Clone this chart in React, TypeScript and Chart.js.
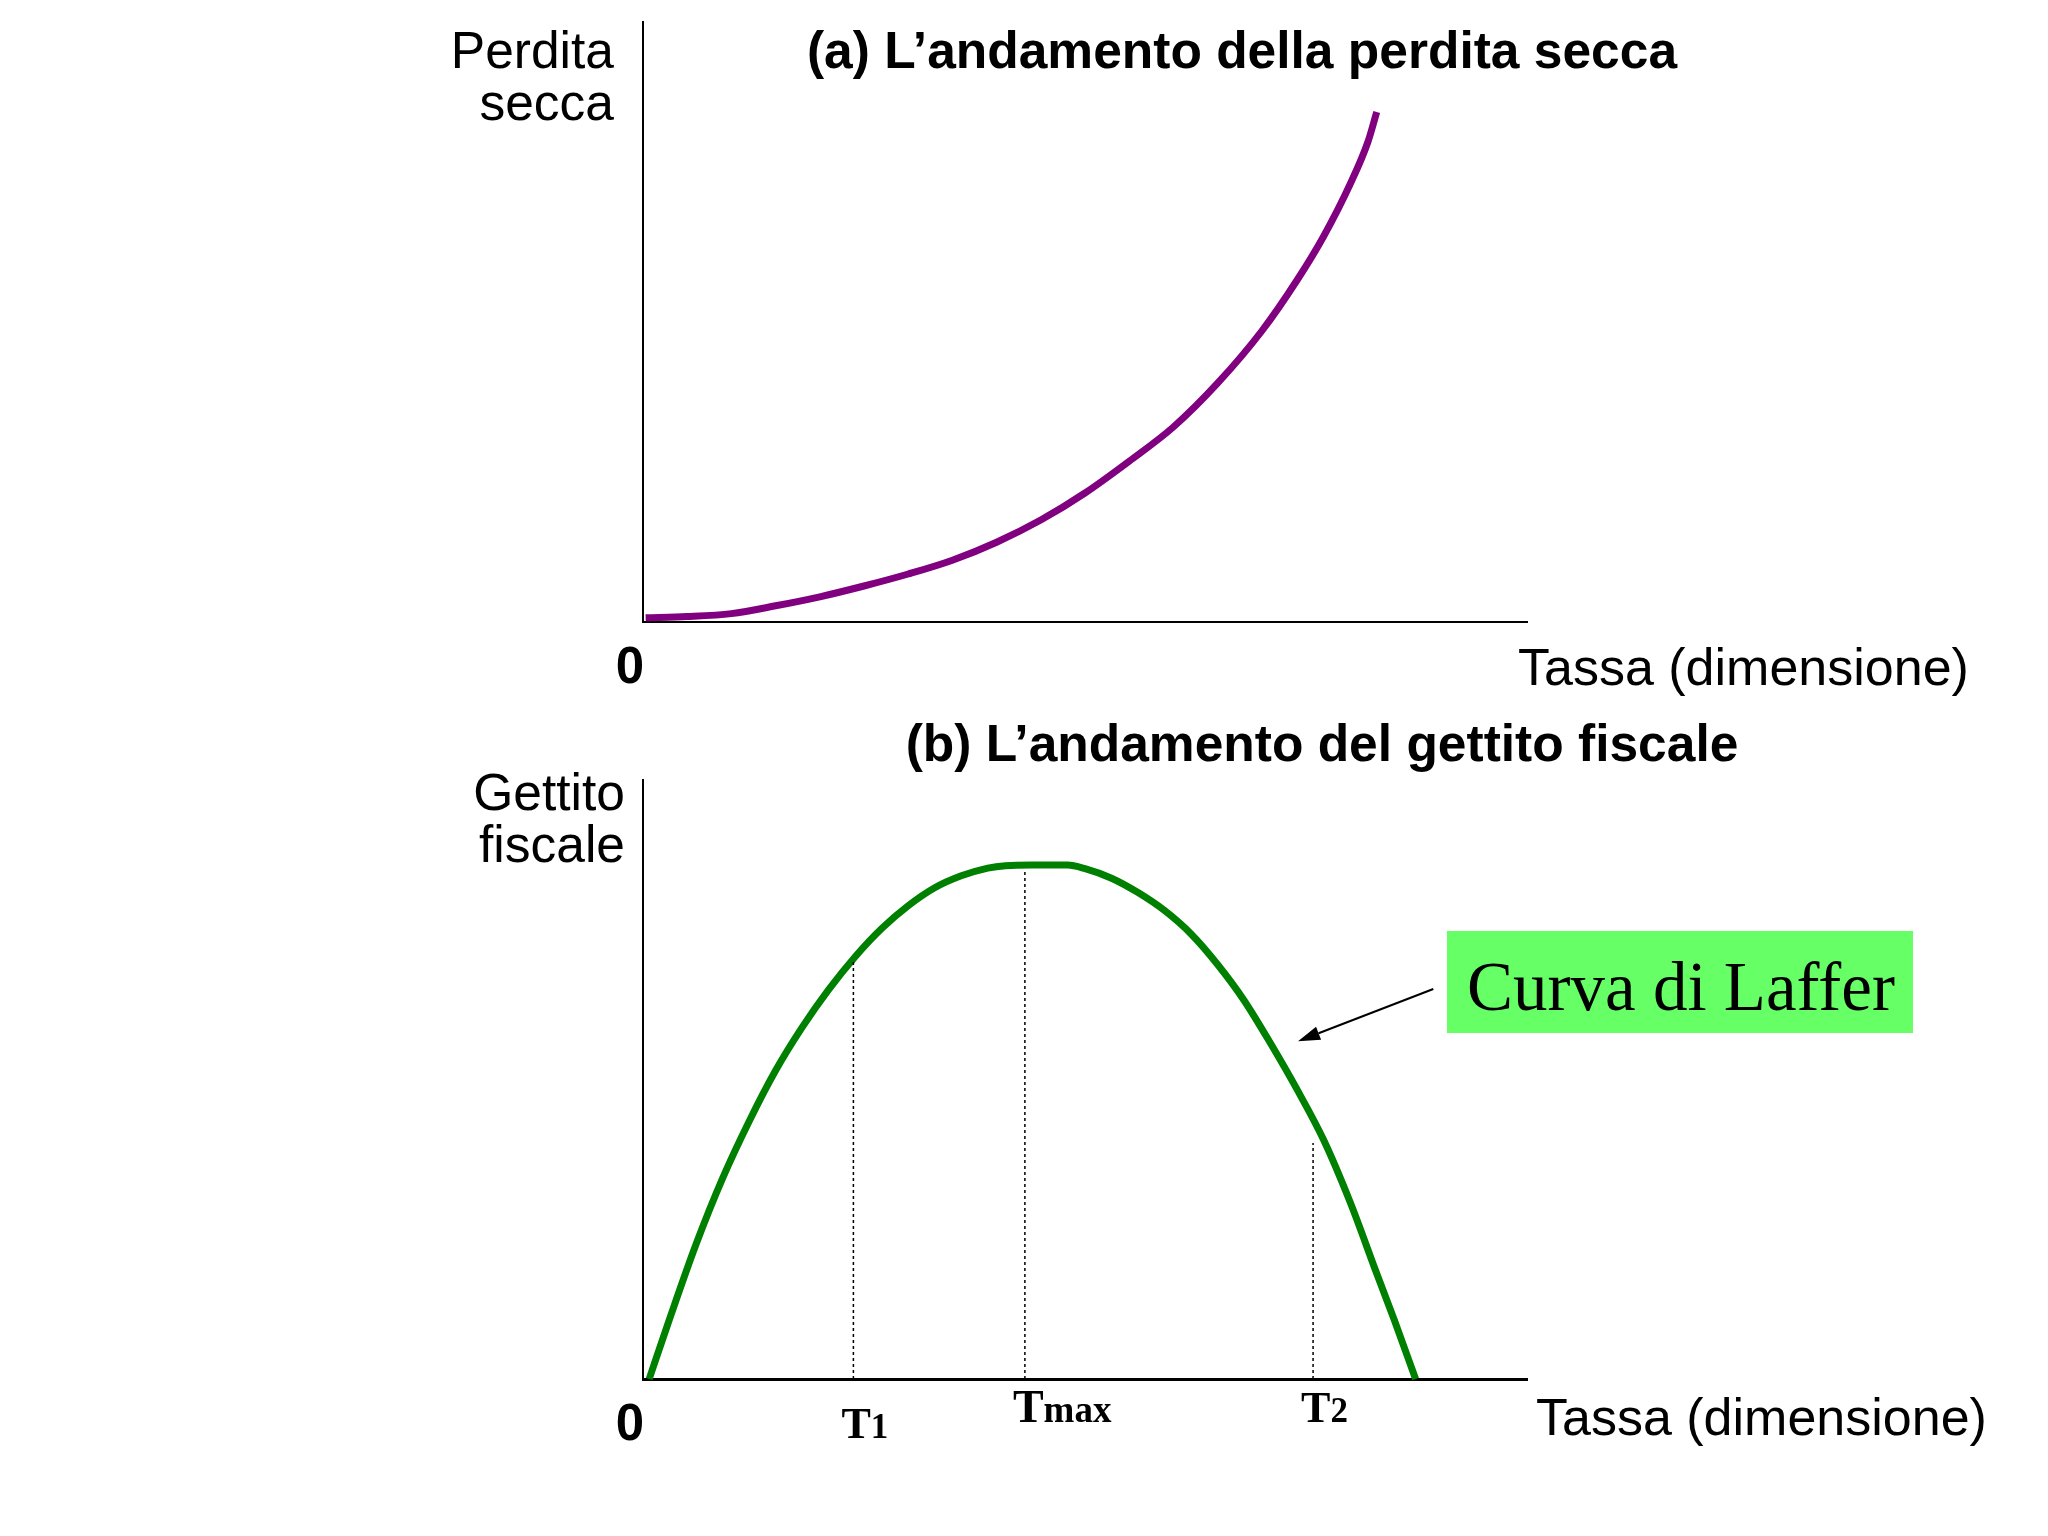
import React, { useEffect, useRef } from "react";
import { Chart, registerables } from "chart.js";

Chart.register(...registerables);

// ---------- DATA ----------
const titleA = "(a) L\u2019andamento della perdita secca";
const titleB = "(b) L\u2019andamento del gettito fiscale";
const yLabelA = ["Perdita", "secca"];
const yLabelB = ["Gettito", "fiscale"];
const xLabel = "Tassa (dimensione)";
const originLabel = "0";
const calloutLabel = "Curva di Laffer";

// (a) dead-weight loss vs tax size
const lossTax = [0.3, 5, 10, 15, 20, 25, 30, 35, 40, 45, 50, 55, 60, 65, 70, 74, 77, 80, 82, 83];
const lossValue = [0.7, 0.9, 1.4, 2.7, 4.2, 6.0, 8.0, 10.3, 13.3, 17.0, 21.5, 26.8, 32.5, 39.8, 48.5, 57.0, 64.3, 73.0, 80.0, 85.0];

// (b) tax revenue (Laffer curve) vs tax size
const revenueTax = [0.7, 3, 6, 9, 12, 15, 18, 21, 24, 27, 30, 33, 36, 39, 41, 44, 48, 50, 53, 56, 59, 62, 65, 68, 71, 74, 77, 80, 83, 85, 87.4];
const revenueValue = [0, 10, 22.5, 33.5, 43, 51.5, 58.7, 65, 70.5, 75.2, 79, 82, 84, 85.3, 85.7, 85.8, 85.8, 85.2, 83.6, 81.2, 78.2, 74.3, 69.2, 63.2, 56.0, 48.3, 39.9, 29.5, 17.6, 9.8, 0];

// marked tax rates on the x axis
const markerMain = ["T", "T", "T"];
const markerSub = ["1", "max", "2"];
const markerTax = [23.8, 43.2, 75.8];
const markerRevenue = [69.8, 85.0, 39.4];

// arrow of the callout: [tail, tip] in data units
const arrowTax = [89.4, 74.1];
const arrowRevenue = [65.1, 56.4];

// ---------- STYLE ----------
const SANS = '"Liberation Sans", Arial, Helvetica, sans-serif';
const SERIF = '"Liberation Serif", "Times New Roman", Times, serif';

function zip(xs: number[], ys: number[]) {
  return xs.map((x, i) => ({ x, y: ys[i] }));
}

function axisOpts(width: number) {
  return {
    type: "linear" as const,
    min: 0,
    max: 100,
    display: true,
    grid: { display: false, drawTicks: false },
    ticks: { display: false },
    border: { display: true, color: "#000", width },
  };
}

const topPlugin = {
  id: "topText",
  afterDraw(chart: any) {
    const ctx: CanvasRenderingContext2D = chart.ctx;
    const { left, right, top, bottom } = chart.chartArea;
    ctx.save();
    ctx.fillStyle = "#000";
    ctx.textBaseline = "alphabetic";
    ctx.font = `bold 51.5px ${SANS}`;
    ctx.textAlign = "center";
    ctx.fillText(titleA, left + 599, top + 46);
    ctx.font = `51.5px ${SANS}`;
    ctx.textAlign = "right";
    ctx.fillText(yLabelA[0], left - 29, top + 46);
    ctx.fillText(yLabelA[1], left - 29, top + 98);
    ctx.font = `bold 51px ${SANS}`;
    ctx.textAlign = "center";
    ctx.fillText(originLabel, left - 13, bottom + 61);
    ctx.font = `52px ${SANS}`;
    ctx.textAlign = "left";
    ctx.fillText(xLabel, right - 9, bottom + 63);
    ctx.restore();
  },
};

const bottomPlugin = {
  id: "bottomText",
  afterDraw(chart: any) {
    const ctx: CanvasRenderingContext2D = chart.ctx;
    const { left, right, top, bottom } = chart.chartArea;
    const xs = chart.scales.x;
    const ys = chart.scales.y;
    ctx.save();
    ctx.fillStyle = "#000";
    ctx.textBaseline = "alphabetic";
    ctx.font = `bold 51.5px ${SANS}`;
    ctx.textAlign = "center";
    ctx.fillText(titleB, left + 679, top - 19);
    ctx.font = `51.5px ${SANS}`;
    ctx.textAlign = "right";
    ctx.fillText(yLabelB[0], left - 18, top + 30);
    ctx.fillText(yLabelB[1], left - 18, top + 82);
    ctx.font = `bold 51px ${SANS}`;
    ctx.textAlign = "center";
    ctx.fillText(originLabel, left - 13, bottom + 61);
    ctx.font = `52px ${SANS}`;
    ctx.textAlign = "left";
    ctx.fillText(xLabel, right + 9, bottom + 56);

    // marker labels
    const dx = [-12, -12, -12];
    const dy = [59, 43, 43];
    const mainSize = [44, 46, 44];
    const subSize = [35, 37, 35];
    ctx.textAlign = "left";
    markerMain.forEach((m, i) => {
      const px = xs.getPixelForValue(markerTax[i]) + dx[i];
      const py = bottom + dy[i];
      ctx.font = `bold ${mainSize[i]}px ${SERIF}`;
      ctx.fillText(m, px, py);
      const w = ctx.measureText(m).width;
      ctx.font = `bold ${subSize[i]}px ${SERIF}`;
      ctx.fillText(markerSub[i], px + w, py);
    });

    // callout box
    const bx = left + 804;
    const by = top + 151;
    ctx.fillStyle = "rgb(102,255,102)";
    ctx.fillRect(bx, by, 466, 102);
    ctx.fillStyle = "#000";
    ctx.font = `69px ${SERIF}`;
    ctx.textAlign = "left";
    ctx.fillText(calloutLabel, bx + 20, by + 79);

    // arrow
    const x1 = xs.getPixelForValue(arrowTax[0]);
    const y1 = ys.getPixelForValue(arrowRevenue[0]);
    const x2 = xs.getPixelForValue(arrowTax[1]);
    const y2 = ys.getPixelForValue(arrowRevenue[1]);
    const ang = Math.atan2(y2 - y1, x2 - x1);
    const hl = 22;
    const hw = 7;
    const bxh = x2 - hl * Math.cos(ang);
    const byh = y2 - hl * Math.sin(ang);
    ctx.strokeStyle = "#000";
    ctx.lineWidth = 2;
    ctx.beginPath();
    ctx.moveTo(x1, y1);
    ctx.lineTo(bxh, byh);
    ctx.stroke();
    ctx.beginPath();
    ctx.moveTo(x2, y2);
    ctx.lineTo(bxh + hw * Math.sin(ang), byh - hw * Math.cos(ang));
    ctx.lineTo(bxh - hw * Math.sin(ang), byh + hw * Math.cos(ang));
    ctx.closePath();
    ctx.fill();
    ctx.restore();
  },
};

export default function App() {
  const topRef = useRef<HTMLCanvasElement>(null);
  const botRef = useRef<HTMLCanvasElement>(null);

  useEffect(() => {
    const c1 = new Chart(topRef.current as HTMLCanvasElement, {
      type: "scatter",
      data: {
        datasets: [
          {
            data: zip(lossTax, lossValue),
            showLine: true,
            borderColor: "#800080",
            borderWidth: 7,
            pointRadius: 0,
            cubicInterpolationMode: "monotone",
            clip: false,
          } as any,
        ],
      },
      options: {
        responsive: false,
        devicePixelRatio: 1,
        animation: false,
        events: [],
        layout: { padding: { left: 643, right: 521, top: 22, bottom: 98 } },
        plugins: { legend: { display: false }, tooltip: { enabled: false } },
        scales: { x: axisOpts(2), y: axisOpts(2) },
      },
      plugins: [topPlugin],
    });

    const markerSets = markerTax.map((t, i) => ({
      data: [
        { x: t, y: 0 },
        { x: t, y: markerRevenue[i] },
      ],
      showLine: true,
      borderColor: "#000",
      borderWidth: 1.5,
      borderDash: [3, 3],
      pointRadius: 0,
      clip: false,
    }));

    const c2 = new Chart(botRef.current as HTMLCanvasElement, {
      type: "scatter",
      data: {
        datasets: [
          ...(markerSets as any[]),
          {
            data: zip(revenueTax, revenueValue),
            showLine: true,
            borderColor: "#008000",
            borderWidth: 7,
            pointRadius: 0,
            cubicInterpolationMode: "monotone",
            clip: false,
          } as any,
        ],
      },
      options: {
        responsive: false,
        devicePixelRatio: 1,
        animation: false,
        events: [],
        layout: { padding: { left: 643, right: 521, top: 60, bottom: 157 } },
        plugins: { legend: { display: false }, tooltip: { enabled: false } },
        scales: { x: axisOpts(3), y: axisOpts(2) },
      },
      plugins: [bottomPlugin],
    });

    return () => {
      c1.destroy();
      c2.destroy();
    };
  }, []);

  return (
    <div style={{ position: "absolute", left: 0, top: 0, width: 2048, height: 1536, background: "#fff" }}>
      <canvas
        ref={topRef}
        width={2048}
        height={720}
        style={{ position: "absolute", left: 0, top: 0, width: 2048, height: 720 }}
      />
      <canvas
        ref={botRef}
        width={2048}
        height={816}
        style={{ position: "absolute", left: 0, top: 720, width: 2048, height: 816 }}
      />
    </div>
  );
}
